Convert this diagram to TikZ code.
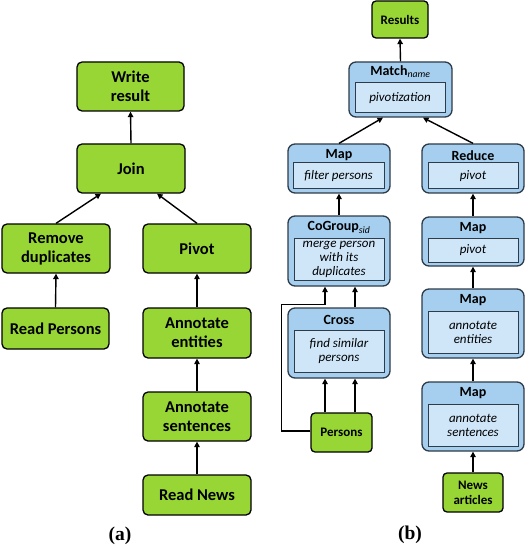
\documentclass[tikz,border=0pt]{standalone}
\usepackage{fontspec}
\setmainfont{Carlito}
\newfontfamily\capfont{Liberation Serif}
\usetikzlibrary{arrows.meta}
\definecolor{gfill}{HTML}{98D636}
\definecolor{bout}{HTML}{A6CFEF}
\definecolor{binn}{HTML}{CFE6F9}
\definecolor{bdraw}{HTML}{2E3B48}
\begin{document}
\begin{tikzpicture}[x=1pt,y=-1pt,
  gbox/.style={draw=black,line width=1.3pt,fill=gfill,rounded corners=5pt,inner sep=0pt,align=center,
    font=\fontsize{16.5}{19}\selectfont\bfseries},
  gsmall/.style={gbox,font=\fontsize{13}{15}\selectfont\bfseries,rounded corners=4pt},
  obox/.style={draw=bdraw,line width=1.3pt,fill=bout,rounded corners=7pt,inner sep=0pt},
  ibox/.style={draw=bdraw,line width=1pt,fill=binn,inner sep=0pt,align=center,
    font=\fontsize{13}{14}\selectfont\itshape},
  ttl/.style={inner sep=0pt,font=\fontsize{14}{15}\selectfont\bfseries},
  arr/.style={line width=1.4pt,-{Triangle[length=5.5pt,width=5.5pt]}},
  captext/.style={inner sep=0pt,font=\fontsize{19.5}{22}\selectfont\capfont\bfseries}]
\useasboundingbox (0,0) rectangle (525,545);
% ---------- (a) ----------
\node[gbox,minimum width=107,minimum height=49] (wr) at (130.5,86.5) {Write\\result};
\node[gbox,minimum width=108,minimum height=49] (join) at (131,168.5) {Join};
\node[gbox,minimum width=108,minimum height=49] (rd) at (56,248.5) {Remove\\duplicates};
\node[gbox,minimum width=108,minimum height=49] (piv) at (197,248.5) {Pivot};
\node[gbox,minimum width=107,minimum height=41] (rp) at (55.5,328.5) {Read Persons};
\node[gbox,minimum width=108,minimum height=50] (ae) at (197,333) {Annotate\\entities};
\node[gbox,minimum width=108,minimum height=49] (as) at (197,416.5) {Annotate\\sentences};
\node[gbox,minimum width=108,minimum height=40] (rn) at (197,495) {Read News};
\draw[arr] (join.north) -- (wr.south);
\draw[arr] (rd.north) -- ([xshift=-30pt]join.south);
\draw[arr] (piv.north) -- ([xshift=26pt]join.south);
\draw[arr] (rp.north) -- (rd.south);
\draw[arr] (ae.north) -- (piv.south);
\draw[arr] (as.north) -- (ae.south);
\draw[arr] (rn.north) -- (as.south);
\node[captext] (capa) at (120,536) {(a)};
% ---------- (b) ----------
\node[gsmall,minimum width=56,minimum height=37] (res) at (400,19.5) {Results};
% Match
\node[obox,minimum width=103,minimum height=55] (match) at (400.5,89.5) {};
\node[ibox,minimum width=90,minimum height=30] (matchI) at (400,98) {pivotization};
\node[ttl] (matchT) at (400.5,72) {Match\textsubscript{\normalfont\itshape name}};
% Map filter
\node[obox,minimum width=102,minimum height=49] (mapf) at (339,168.5) {};
\node[ibox,minimum width=91,minimum height=26] (mapfI) at (338.5,176) {filter persons};
\node[ttl] (mapfT) at (339,155) {Map};
% Reduce
\node[obox,minimum width=102,minimum height=49] (red) at (473,168.5) {};
\node[ibox,minimum width=90,minimum height=26] (redI) at (473,176) {pivot};
\node[ttl] (redT) at (473,155.5) {Reduce};
% CoGroup
\node[obox,minimum width=102,minimum height=70] (cog) at (339,251) {};
\node[ibox,minimum width=90,minimum height=42] (cogI) at (339,259) {merge person\\with its\\duplicates};
\node[ttl] (cogT) at (339,227.5) {CoGroup\textsubscript{\normalfont\itshape sid}};
% Map pivot
\node[obox,minimum width=102,minimum height=49] (mapp) at (473,241.5) {};
\node[ibox,minimum width=90,minimum height=24] (mappI) at (473,250) {pivot};
\node[ttl] (mappT) at (473,228) {Map};
% Cross
\node[obox,minimum width=102,minimum height=70] (cross) at (339,343) {};
\node[ibox,minimum width=90,minimum height=42] (crossI) at (339,351) {find similar\\persons};
\node[ttl] (crossT) at (339,319.5) {Cross};
% Map entities
\node[obox,minimum width=102,minimum height=69] (mape) at (473,323.5) {};
\node[ibox,minimum width=90,minimum height=42] (mapeI) at (473,332) {annotate\\entities};
\node[ttl] (mapeT) at (473,300.5) {Map};
% Map sentences
\node[obox,minimum width=102,minimum height=69] (maps) at (473,416.5) {};
\node[ibox,minimum width=90,minimum height=42] (mapsI) at (473,425) {annotate\\sentences};
\node[ttl] (mapsT) at (473,393.5) {Map};
% sources
\node[gsmall,minimum width=61,minimum height=39] (pers) at (341.5,432.5) {Persons};
\node[gsmall,minimum width=60,minimum height=39] (news) at (473,492.5) {News\\articles};
% arrows (b)
\draw[arr] (match.north) -- (res.south);
\draw[arr] (mapf.north) -- ([xshift=-17.5pt]match.south);
\draw[arr] (red.north) -- ([xshift=22.5pt]match.south);
\draw[arr] (cog.north) -- (mapf.south);
\draw[arr] (mapp.north) -- (red.south);
\draw[arr] (mape.north) -- (mapp.south);
\draw[arr] (maps.north) -- (mape.south);
\draw[arr] (news.north) -- (maps.south);
\draw[arr] ([xshift=16pt]cross.north) -- ([xshift=16pt]cog.south);
\draw[arr] ([xshift=-14pt]cross.south |- pers.north) -- ([xshift=-14pt]cross.south);
\draw[arr] ([xshift=16pt]cross.south |- pers.north) -- ([xshift=16pt]cross.south);
\draw[arr] ([yshift=1.5pt]pers.west) -- ++(-29pt,0pt) |- ([xshift=-14pt,yshift=-18pt]cog.south) -- ([xshift=-14pt]cog.south);
\node[captext] (capb) at (410,535) {(b)};
\end{tikzpicture}
\end{document}
